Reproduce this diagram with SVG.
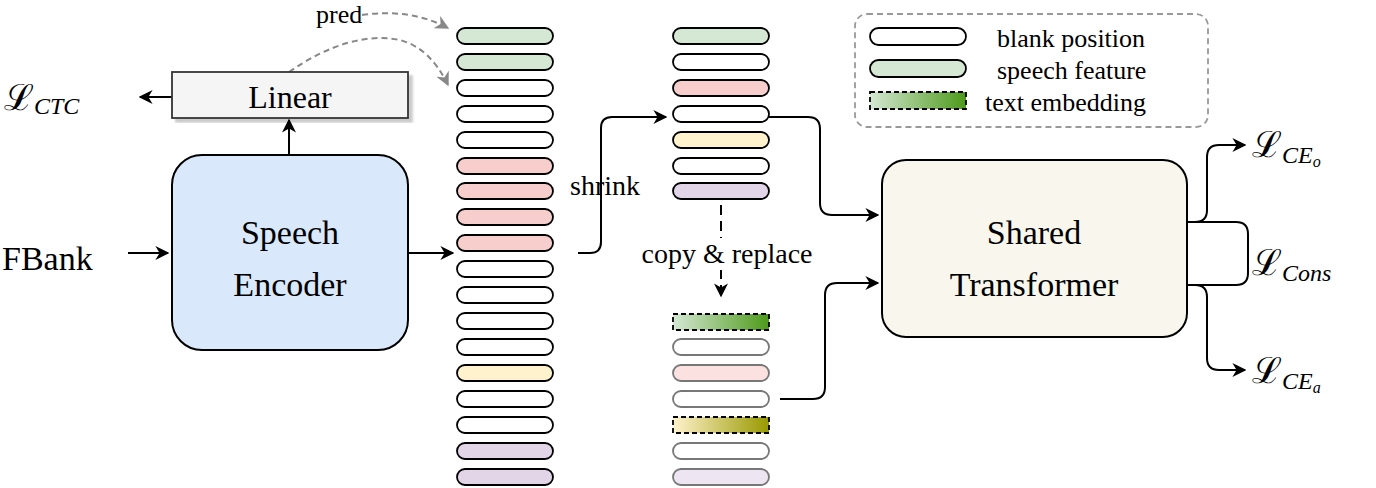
<svg xmlns="http://www.w3.org/2000/svg" width="1376" height="488" viewBox="0 0 1376 488">
<style>
text{font-family:'Liberation Serif','Times New Roman','DejaVu Serif',serif;fill:#000}
.b{stroke:#000;stroke-width:1.8}
.g{stroke:#777;stroke-width:1.8}
.w{fill:#fff}.gr{fill:#d5e8d4}.pk{fill:#f8cecc}.ye{fill:#fff2cc}.pu{fill:#e1d5e7}
.pk2{fill:#fbe2e1}.pu2{fill:#ede5f1}
.c{fill:none;stroke:#000;stroke-width:2}
.d{fill:none;stroke:#888;stroke-width:2;stroke-dasharray:6 4}
.L{font-size:36px}.s{font-size:24px;font-style:italic}
</style>
<defs>
<marker id="a" viewBox="0 0 10 10" refX="9" refY="5" markerWidth="7" markerHeight="7" orient="auto"><path d="M0,0L10,5L0,10L3,5z" fill="#000"/></marker>
<marker id="ag" viewBox="0 0 10 10" refX="9" refY="5" markerWidth="7" markerHeight="7" orient="auto"><path d="M0,0L10,5L0,10L3,5z" fill="#888"/></marker>
<linearGradient id="gg"><stop offset="0" stop-color="#d5e8d4"/><stop offset="1" stop-color="#4d9a1a"/></linearGradient>
<linearGradient id="gy"><stop offset="0" stop-color="#fff2cc"/><stop offset="1" stop-color="#999900"/></linearGradient>
<filter id="sh"><feDropShadow dx="4" dy="4" stdDeviation="1" flood-color="#000" flood-opacity="0.2"/></filter>
</defs>

<g id="legend">
<rect x="855" y="14" width="353" height="113" rx="12" fill="none" stroke="#999" stroke-width="1.8" stroke-dasharray="6 4"/>
<rect x="870" y="28" width="96" height="17" rx="8.5" class="w b"/>
<text x="997" y="47" font-size="26">blank position</text>
<rect x="870" y="60" width="96" height="17" rx="8.5" class="gr b"/>
<text x="997" y="79" font-size="26">speech feature</text>
<rect x="870" y="92" width="96" height="17" fill="url(#gg)" stroke="#000" stroke-width="1.8" stroke-dasharray="5 3"/>
<text x="985" y="111" font-size="26">text embedding</text>
</g>

<g id="connectors">
<path class="c" d="M172,97H140" marker-end="url(#a)"/>
<path class="c" d="M289,155V120" marker-end="url(#a)"/>
<path class="c" d="M128,253H168" marker-end="url(#a)"/>
<path class="c" d="M408,253H453" marker-end="url(#a)"/>
<path class="c" d="M578,253H590Q601,253 601,242V128Q601,117 612,117H666" marker-end="url(#a)"/>
<path class="c" d="M769,117H808Q820,117 820,129V203Q820,215 832,215H878" marker-end="url(#a)"/>
<path class="c" d="M780,399H813Q825,399 825,387V295Q825,283 837,283H878" marker-end="url(#a)"/>
<path class="c" stroke-dasharray="10 6" d="M721,205V296" marker-end="url(#a)"/>
<path class="c" d="M1187,222H1195Q1207,222 1207,210V157Q1207,145 1219,145H1245" marker-end="url(#a)"/>
<path class="c" d="M1187,222H1236Q1248,222 1248,234V273Q1248,285 1236,285H1187"/>
<path class="c" d="M1187,285H1195Q1207,285 1207,297V358Q1207,370 1219,370H1245" marker-end="url(#a)"/>
<path class="d" d="M362,15Q410,8 448,28" marker-end="url(#ag)"/>
<path class="d" d="M289,72Q350,30 400,40Q430,48 448,85" marker-end="url(#ag)"/>
</g>

<text x="316" y="23" font-size="26">pred</text>
<text x="570" y="195" font-size="28">shrink</text>
<rect x="618" y="238" width="218" height="32" fill="#fff"/>
<text x="727" y="263" font-size="28" text-anchor="middle">copy &amp; replace</text>

<g id="linear">
<rect x="172" y="72" width="236" height="46" fill="#f5f5f5" stroke="#333" stroke-width="1.8" filter="url(#sh)"/>
<text x="290" y="108" font-size="32" text-anchor="middle">Linear</text>
</g>
<g id="encoder">
<rect x="172" y="155" width="236" height="195" rx="30" fill="#dae8fc" stroke="#000" stroke-width="2"/>
<text x="290" y="244" font-size="34" text-anchor="middle">Speech</text>
<text x="290" y="296" font-size="34" text-anchor="middle">Encoder</text>
</g>
<g id="transformer">
<rect x="882" y="160" width="305" height="177" rx="24" fill="#f9f7ed" stroke="#000" stroke-width="2"/>
<text x="1034" y="244" font-size="34" text-anchor="middle">Shared</text>
<text x="1034" y="296" font-size="34" text-anchor="middle">Transformer</text>
</g>
<text x="2" y="270" font-size="34" id="fbank">FBank</text>

<g id="col1">
<rect x="457" y="28" width="96" height="16" rx="8" class="gr b"/>
<rect x="457" y="54" width="96" height="16" rx="8" class="gr b"/>
<rect x="457" y="80" width="96" height="16" rx="8" class="w b"/>
<rect x="457" y="106" width="96" height="16" rx="8" class="w b"/>
<rect x="457" y="132" width="96" height="16" rx="8" class="w b"/>
<rect x="457" y="158" width="96" height="16" rx="8" class="pk b"/>
<rect x="457" y="183" width="96" height="16" rx="8" class="pk b"/>
<rect x="457" y="209" width="96" height="16" rx="8" class="pk b"/>
<rect x="457" y="235" width="96" height="16" rx="8" class="pk b"/>
<rect x="457" y="261" width="96" height="16" rx="8" class="w b"/>
<rect x="457" y="287" width="96" height="16" rx="8" class="w b"/>
<rect x="457" y="313" width="96" height="16" rx="8" class="w b"/>
<rect x="457" y="339" width="96" height="16" rx="8" class="w b"/>
<rect x="457" y="365" width="96" height="16" rx="8" class="ye b"/>
<rect x="457" y="391" width="96" height="16" rx="8" class="w b"/>
<rect x="457" y="417" width="96" height="16" rx="8" class="w b"/>
<rect x="457" y="443" width="96" height="16" rx="8" class="pu b"/>
<rect x="457" y="469" width="96" height="16" rx="8" class="pu b"/>
</g>
<g id="col2">
<rect x="673" y="28" width="96" height="16" rx="8" class="gr b"/>
<rect x="673" y="54" width="96" height="16" rx="8" class="w b"/>
<rect x="673" y="80" width="96" height="16" rx="8" class="pk b"/>
<rect x="673" y="106" width="96" height="16" rx="8" class="w b"/>
<rect x="673" y="132" width="96" height="16" rx="8" class="ye b"/>
<rect x="673" y="158" width="96" height="16" rx="8" class="w b"/>
<rect x="673" y="183" width="96" height="16" rx="8" class="pu b"/>
</g>
<g id="col3">
<rect x="673" y="314" width="96" height="16" fill="url(#gg)" stroke="#000" stroke-width="1.8" stroke-dasharray="5 3"/>
<rect x="673" y="339" width="96" height="16" rx="8" class="w g"/>
<rect x="673" y="365" width="96" height="16" rx="8" class="pk2 g"/>
<rect x="673" y="391" width="96" height="16" rx="8" class="w g"/>
<rect x="673" y="417" width="96" height="16" fill="url(#gy)" stroke="#000" stroke-width="1.8" stroke-dasharray="5 3"/>
<rect x="673" y="443" width="96" height="16" rx="8" class="w g"/>
<rect x="673" y="469" width="96" height="16" rx="8" class="pu2 g"/>
</g>

<g id="losses">
<text x="4" y="110" class="L">ℒ<tspan class="s" dy="4">CTC</tspan></text>
<text x="1252" y="157" class="L">ℒ<tspan class="s" dy="6">CE</tspan><tspan font-size="16" font-style="italic" dy="4">o</tspan></text>
<text x="1252" y="275" class="L">ℒ<tspan class="s" dy="6">Cons</tspan></text>
<text x="1252" y="383" class="L">ℒ<tspan class="s" dy="6">CE</tspan><tspan font-size="16" font-style="italic" dy="4">a</tspan></text>
</g>
</svg>
